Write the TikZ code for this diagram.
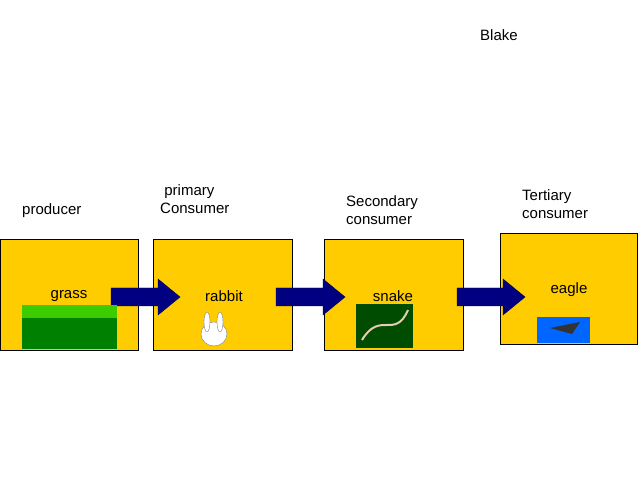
\documentclass[tikz,border=0pt]{standalone}
\usepackage{fontspec}
\setmainfont{Liberation Sans}
\usetikzlibrary{positioning}
\definecolor{boxyellow}{HTML}{FFCC00}
\definecolor{arrowblue}{HTML}{000080}
\tikzset{
  stage/.style={draw=black,line width=0.6pt,fill=boxyellow},
  word/.style={font=\fontsize{15}{17}\selectfont,inner sep=0pt},
  label/.style={font=\fontsize{15}{18}\selectfont,align=left,inner sep=0pt,anchor=west},
  bigarrow/.style={fill=arrowblue,draw=arrowblue!60!black,line width=0.4pt}
}
\newcommand{\blockarrow}[2]{% start x, end x (y fixed)
  \draw[bigarrow] (#1,288) -- ({#2-22},288) -- ({#2-22},279) -- (#2,297)
    -- ({#2-22},315) -- ({#2-22},306) -- (#1,306) -- cycle;}
\begin{document}
\begin{tikzpicture}[x=1pt,y=-1pt]
  \useasboundingbox (0,0) rectangle (638,478);
  % stage boxes
  \draw[stage] (0,239) rectangle (138,350);
  \draw[stage] (153,239) rectangle (292,350);
  \draw[stage] (324,239) rectangle (463,350);
  \draw[stage] (500,233) rectangle (637,344);
  % arrows
  \blockarrow{111}{180}
  \blockarrow{276}{345}
  \blockarrow{457}{525}
  % pictures
  \fill[green!50!black] (22,305) rectangle (117,349);
  \fill[green!70!yellow!80!black] (22,305) rectangle (117,318);
  \draw[gray,fill=white] (214,334) ellipse (13 and 12);
  \draw[gray,fill=white] (207,322) ellipse (3 and 10);
  \draw[gray,fill=white] (220,322) ellipse (3 and 10);
  \fill[black!70!green] (356,304) rectangle (413,348);
  \draw[line width=2pt,brown!40!white] (362,340) .. controls (380,310) and (395,340) .. (408,310);
  \fill[blue!60!cyan] (537,317) rectangle (590,343);
  \fill[black!80] (550,328) -- (580,322) -- (572,334) -- cycle;
  % names
  \node[word] (grass) at (69,296) {grass};
  \node[word] (rabbit) at (224,296) {rabbit};
  \node[word] (snake) at (393,296) {snake};
  \node[word] (eagle) at (569,290) {eagle};
  % headings
  \node[label] (prod) at (22,211) {producer};
  \node[label] (prim) at (160,199) {\ primary\\Consumer};
  \node[label] (sec) at (346,210) {Secondary\\consumer};
  \node[label] (ter) at (522,204) {Tertiary\\consumer};
  \node[word] (author) at (499,35) {Blake};
\end{tikzpicture}
\end{document}
